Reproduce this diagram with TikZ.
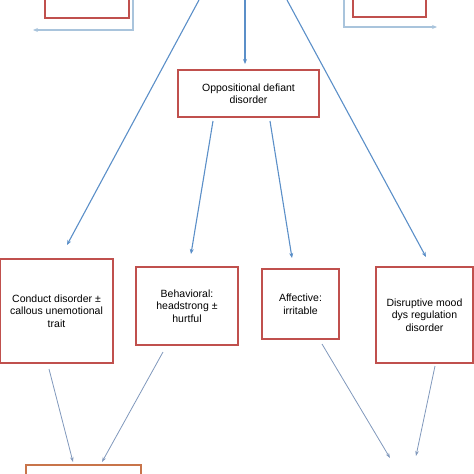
\documentclass[tikz,border=0pt]{standalone}
\usepackage{fontspec}
\setmainfont{Liberation Sans}
\usetikzlibrary{arrows.meta}
\definecolor{boxred}{HTML}{C0504D}
\definecolor{boxorange}{HTML}{C8744A}
\definecolor{lineblue}{HTML}{5B8FC8}
\definecolor{lightblue}{HTML}{A9C4DC}
\definecolor{greyblue}{HTML}{8098BC}
\tikzset{
  box/.style={draw=boxred, line width=1.4pt, align=center, inner sep=0pt,
    font=\fontsize{10.5}{12.5}\selectfont},
  toparrow/.style={draw=lineblue, line width=1.1pt, -{Stealth[length=5pt,width=4pt]}},
  elbowarrow/.style={draw=lightblue, line width=1.1pt, -{Stealth[length=5pt,width=4pt]}},
  lowarrow/.style={draw=greyblue, line width=0.8pt, -{Stealth[length=5pt,width=3.5pt]}}
}
\begin{document}
\begin{tikzpicture}[x=1pt,y=-1pt]
\useasboundingbox (0,0) rectangle (474,474);
% partially visible top boxes
\node[box, minimum width=84pt, minimum height=40pt] (tl) at (87,-2) {};
\node[box, minimum width=73pt, minimum height=40pt] (tr) at (389.5,-3) {};
% main boxes
\node[box, minimum width=141pt, minimum height=47pt] (odd) at (248.5,93.5) {Oppositional defiant\\disorder};
\node[box, minimum width=113pt, minimum height=104pt] (cd) at (56.5,311) {Conduct disorder ±\\callous unemotional\\trait};
\node[box, minimum width=102pt, minimum height=78pt] (beh) at (187,306) {Behavioral:\\headstrong ±\\hurtful};
\node[box, minimum width=77pt, minimum height=70pt] (aff) at (300.5,304) {Affective:\\irritable};
\node[box, minimum width=97pt, minimum height=96pt] (dmd) at (424.5,315) {Disruptive mood\\dys regulation\\disorder};
\node[draw=boxorange, line width=1.4pt, minimum width=115pt, minimum height=30pt, inner sep=0pt] (bot) at (83.5,480) {};
% free ends
\coordinate (s1) at (133,0);
\coordinate (e1) at (33,30);
\coordinate (s2) at (344,0);
\coordinate (e2) at (437,27);
\coordinate (sc) at (245,0);
\coordinate (ec) at (245,64);
\coordinate (sl) at (199,0);
\coordinate (el) at (67,245);
\coordinate (sr) at (287,0);
\coordinate (er) at (426,257);
\coordinate (o1) at (213,121);
\coordinate (o2) at (270,121);
\coordinate (eb) at (191,254);
\coordinate (eaf) at (292,258);
\coordinate (a1) at (322,344);
\coordinate (ea) at (390,458);
\coordinate (d1) at (435,366);
\coordinate (ed) at (416,456);
\coordinate (c1) at (49,369);
\coordinate (b1) at (163,352);
\coordinate (bc) at (73,462);
\coordinate (bb) at (102,462);
% connectors
\draw[elbowarrow] (s1) |- (e1);
\draw[elbowarrow] (s2) |- (e2);
\draw[toparrow] (sc) -- (ec);
\draw[toparrow] (sl) -- (el);
\draw[toparrow] (sr) -- (er);
\draw[toparrow] (o1) -- (eb);
\draw[toparrow] (o2) -- (eaf);
\draw[lowarrow] (c1) -- (bc);
\draw[lowarrow] (b1) -- (bb);
\draw[lowarrow] (a1) -- (ea);
\draw[lowarrow] (d1) -- (ed);
\end{tikzpicture}
\end{document}
